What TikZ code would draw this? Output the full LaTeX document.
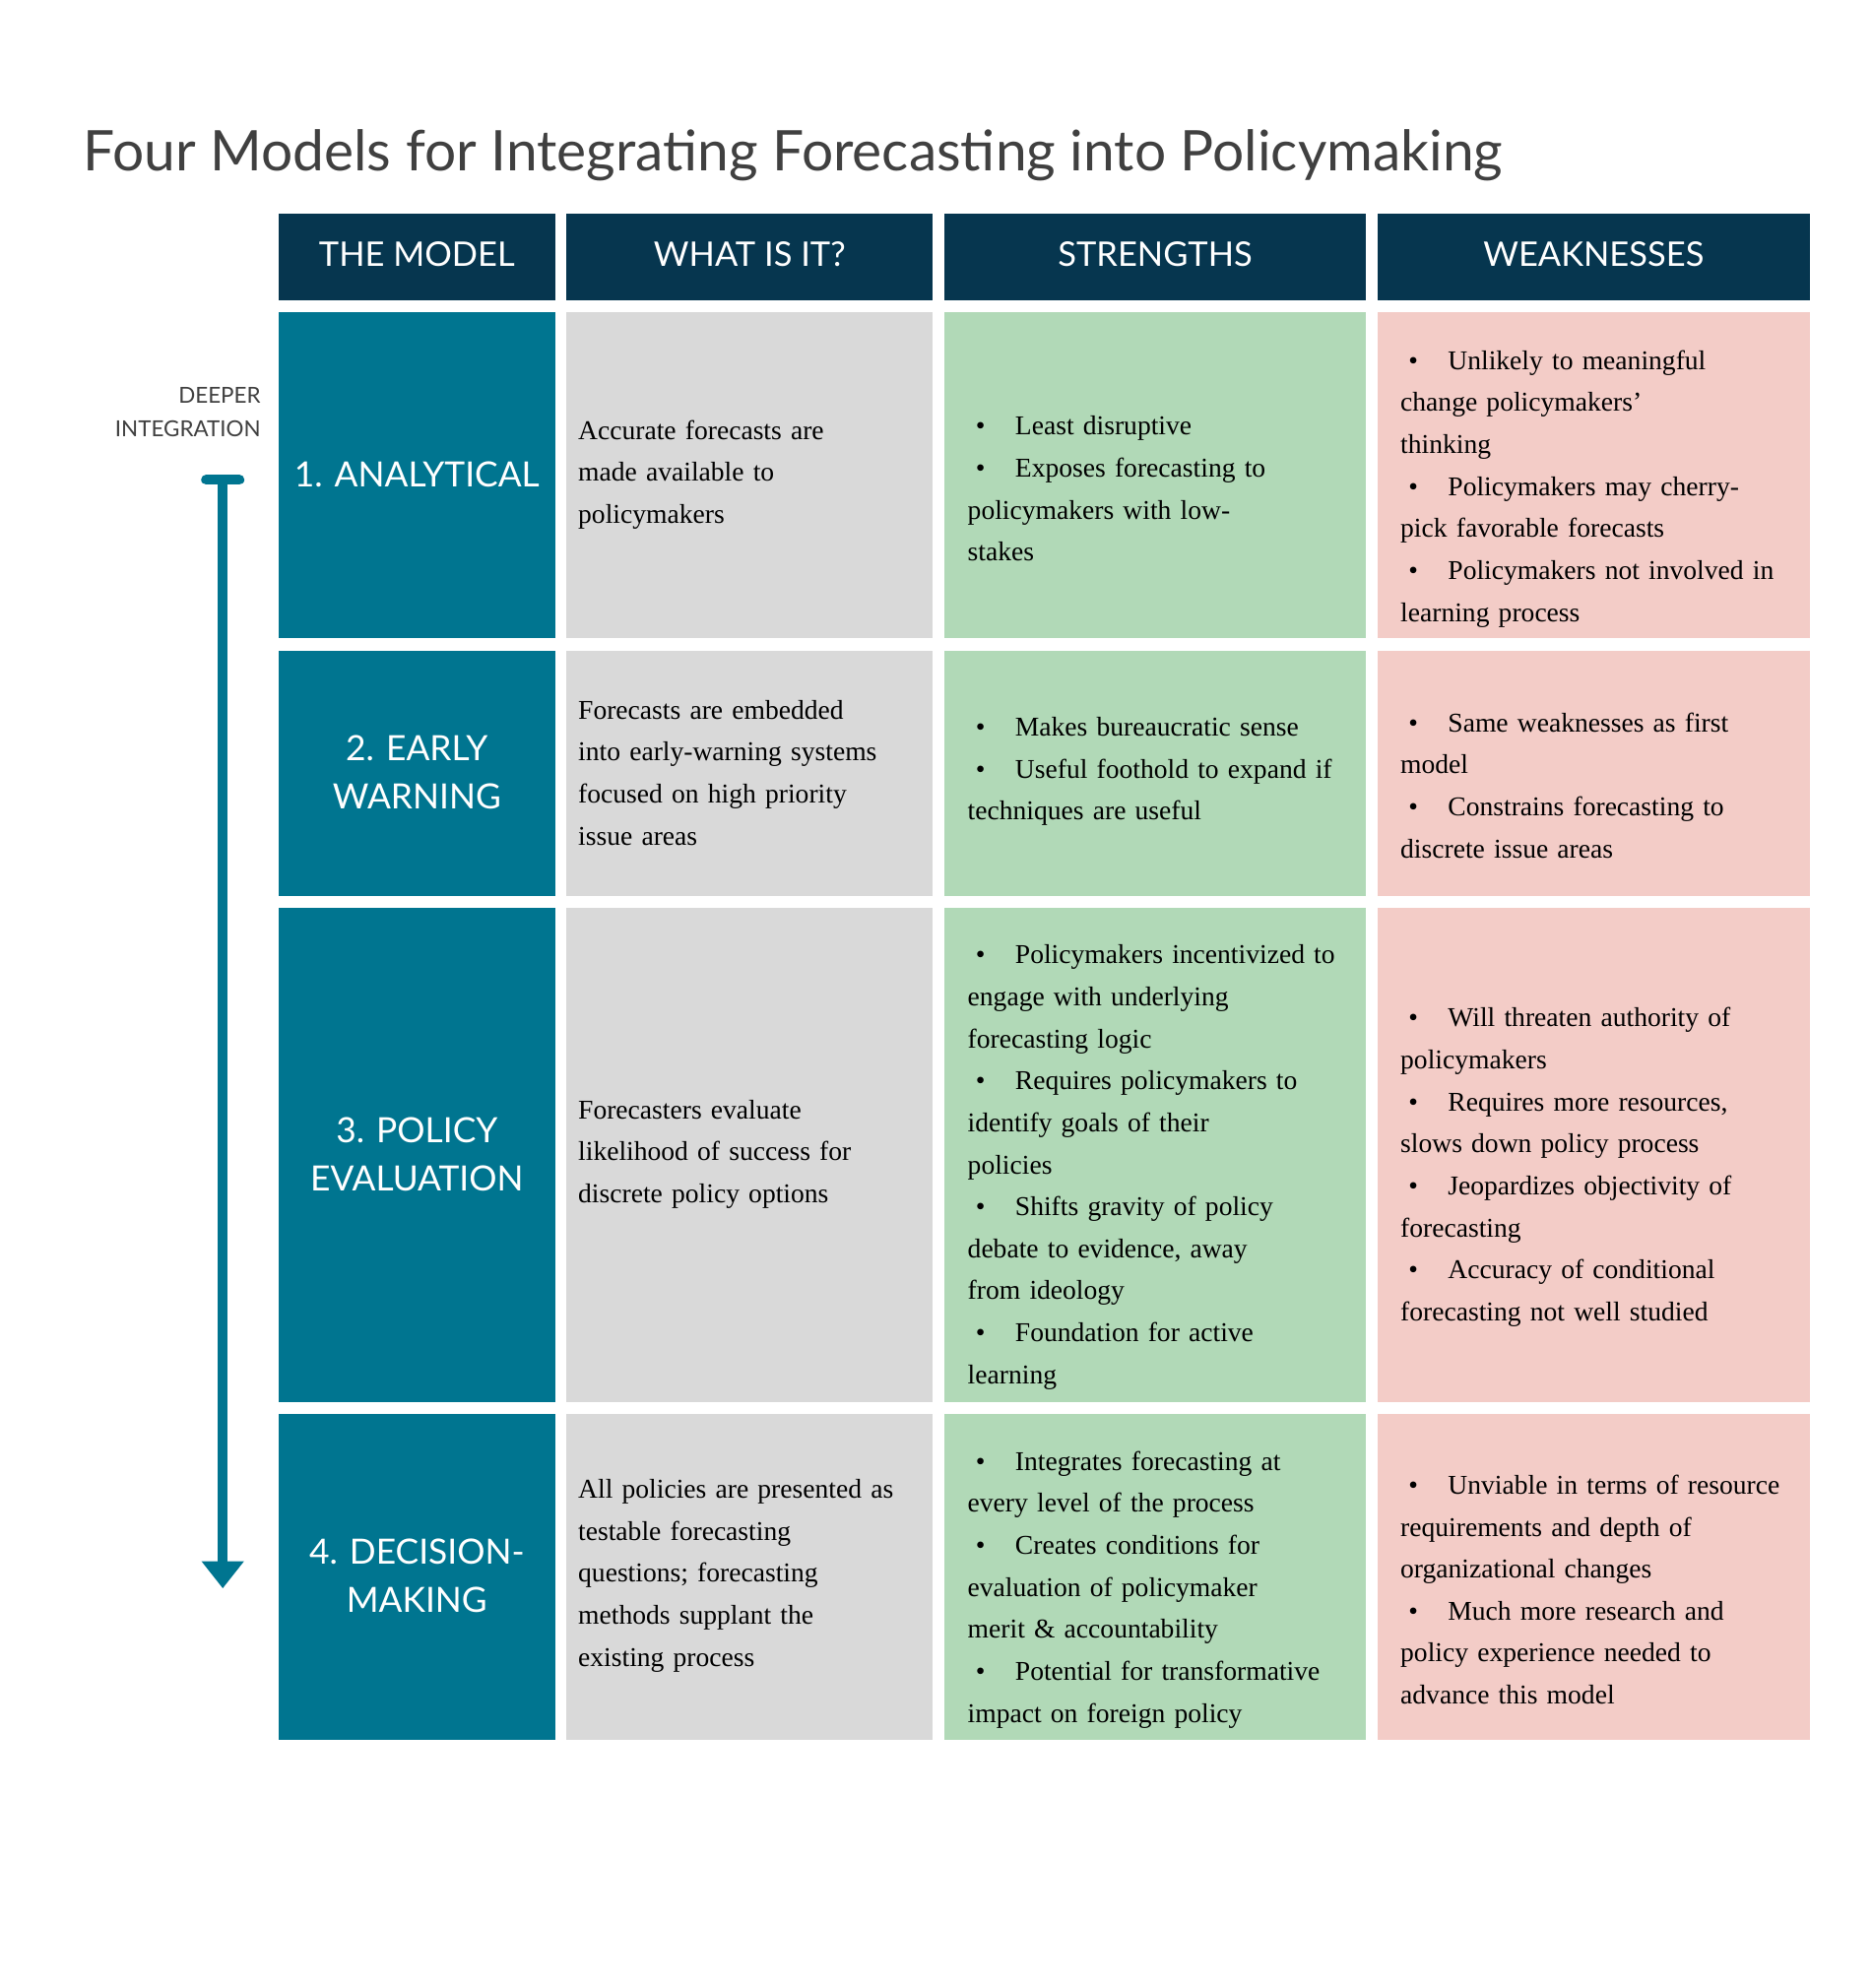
\documentclass[tikz,border=0pt]{standalone}
\usepackage{fontspec}
\setmainfont{Liberation Serif}
\newfontfamily\sansf{Lato}
\usetikzlibrary{arrows.meta}
\definecolor{navy}{HTML}{06364F}
\definecolor{teal}{HTML}{007590}
\definecolor{greyc}{HTML}{D9D9D9}
\definecolor{greenc}{HTML}{B1D9B7}
\definecolor{pinkc}{HTML}{F3CCC7}
\definecolor{titlec}{HTML}{404040}
\newcommand\bitem[1]{\par\noindent\hangindent=1.75em\hangafter=1\makebox[1.75em][l]{\hspace{0.3em}\textbullet}#1}
\begin{document}
\begin{tikzpicture}[x=0.75pt,y=-0.75pt,
  cell/.style={inner sep=0pt},
  hdr/.style={font=\sansf\fontsize{20}{26}\selectfont,text=white,align=center},
  mdl/.style={font=\sansf\fontsize{20.5}{28.5}\selectfont,text=white,align=center},
  body/.style={font=\fontsize{16}{24.75}\selectfont,align=left,anchor=west,inner sep=0pt}]
\useasboundingbox (0,0) rectangle (1470,1562);
\node[anchor=base west,inner sep=0pt,text=titlec,font=\sansf\fontsize{33}{40}\selectfont] (title) at (65,134) {Four Models for Integrating Forecasting into Policymaking};
% column x ranges
\def\rows{{245,501},{511,704},{713,1102},{1111,1367}}
\fill[navy] (219,168) rectangle (436,236);
\fill[navy] (445,168) rectangle (733,236);
\fill[navy] (742,168) rectangle (1073,236);
\fill[navy] (1082,168) rectangle (1422,236);
\node[hdr] (h1) at (327.5,200) {THE MODEL};
\node[hdr] (h2) at (589,200) {WHAT IS IT?};
\node[hdr] (h3) at (907.5,200) {STRENGTHS};
\node[hdr] (h4) at (1252,200) {WEAKNESSES};
\foreach \a/\b in {245/501,511/704,713/1102,1111/1367}{
  \fill[teal] (219,\a) rectangle (436,\b);
  \fill[greyc] (445,\a) rectangle (733,\b);
  \fill[greenc] (742,\a) rectangle (1073,\b);
  \fill[pinkc] (1082,\a) rectangle (1422,\b);
}
% model column
\node[mdl] (m1) at (327.5,373) {1. ANALYTICAL};
\node[mdl] (m2) at (327.5,607) {2. EARLY\\WARNING};
\node[mdl] (m3) at (327.5,907) {3. POLICY\\EVALUATION};
\node[mdl] (m4) at (327.5,1238) {4. DECISION-\\MAKING};
% what is it
\node[body,text width=205pt] (w1) at (454,373) {Accurate forecasts are\\made available to\\policymakers};
\node[body,text width=205pt] (w2) at (454,607) {Forecasts are embedded\\into early-warning systems\\focused on high priority\\issue areas};
\node[body,text width=205pt] (w3) at (454,907) {Forecasters evaluate\\likelihood of success for\\discrete policy options};
\node[body,text width=205pt] (w4) at (454,1238) {All policies are presented as\\testable forecasting\\questions; forecasting\\methods supplant the\\existing process};
% strengths
\node[body,text width=232pt] (s1) at (760,375) {\bitem{Least disruptive}\bitem{Exposes forecasting to\\policymakers with low-\\stakes}};
\node[body,text width=232pt] (s2) at (760,597) {\bitem{Makes bureaucratic sense}\bitem{Useful foothold to expand if\\techniques are useful}};
\node[body,text width=232pt] (s3) at (760,908) {\bitem{Policymakers incentivized to\\engage with underlying\\forecasting logic}\bitem{Requires policymakers to\\identify goals of their\\policies}\bitem{Shifts gravity of policy\\debate to evidence, away\\from ideology}\bitem{Foundation for active\\learning}};
\node[body,text width=232pt] (s4) at (760,1240) {\bitem{Integrates forecasting at\\every level of the process}\bitem{Creates conditions for\\evaluation of policymaker\\merit \& accountability}\bitem{Potential for transformative\\impact on foreign policy}};
% weaknesses
\node[body,text width=240pt] (k1) at (1100,375) {\bitem{Unlikely to meaningful\\change policymakers'\\thinking}\bitem{Policymakers may cherry-\\pick favorable forecasts}\bitem{Policymakers not involved in\\learning process}};
\node[body,text width=240pt] (k2) at (1100,608) {\bitem{Same weaknesses as first\\model}\bitem{Constrains forecasting to\\discrete issue areas}};
\node[body,text width=240pt] (k3) at (1100,908) {\bitem{Will threaten authority of\\policymakers}\bitem{Requires more resources,\\slows down policy process}\bitem{Jeopardizes objectivity of\\forecasting}\bitem{Accuracy of conditional\\forecasting not well studied}};
\node[body,text width=240pt] (k4) at (1100,1240) {\bitem{Unviable in terms of resource\\requirements and depth of\\organizational changes}\bitem{Much more research and\\policy experience needed to\\advance this model}};
% arrow
\node[anchor=east,align=right,inner sep=0pt,text=titlec,font=\sansf\fontsize{13}{19.5}\selectfont] (deep) at (205,324) {DEEPER\\INTEGRATION};
\coordinate (a0) at (175,377);
\coordinate (a1) at (175,1248);
\draw[teal,line width=6pt,line cap=round] (162,377) -- (188,377);
\draw[teal,line width=6pt,-{Triangle[length=16pt,width=24pt]}] (a0) -- (a1);
\end{tikzpicture}
\end{document}
